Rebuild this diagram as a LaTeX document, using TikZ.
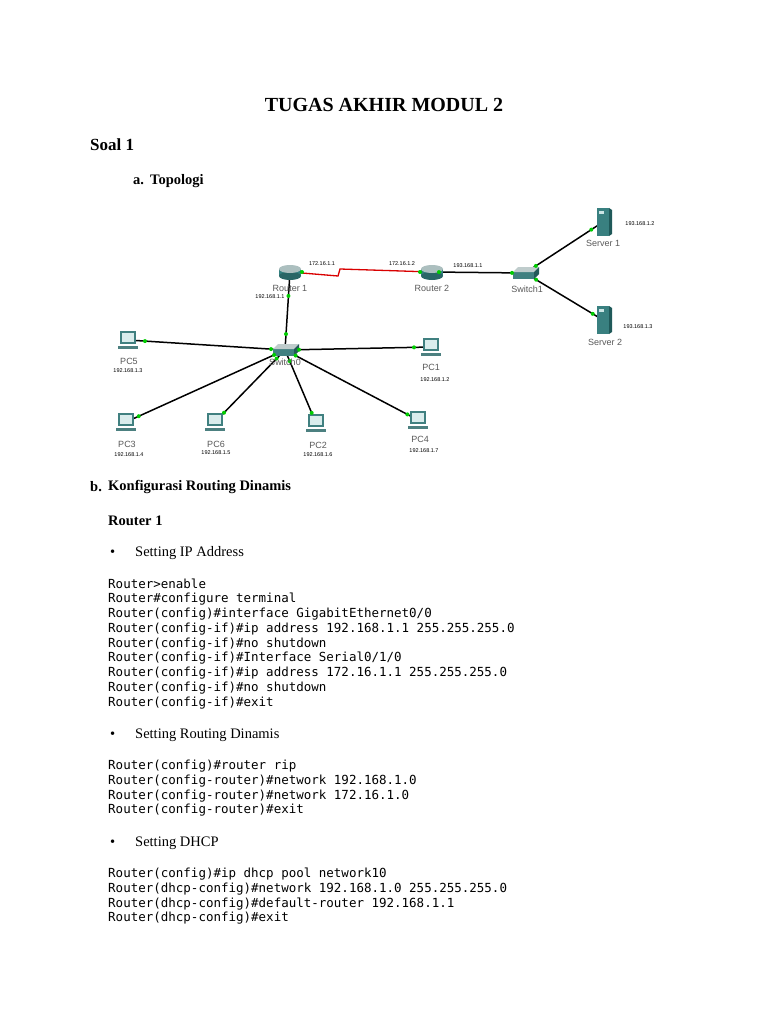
\documentclass[tikz,border=0pt]{standalone}
\usetikzlibrary{calc}
\usepackage{fontspec}
\setmainfont{Liberation Serif}
\newfontfamily\lsans{Liberation Sans}
\newfontfamily\cmono{DejaVu Sans Mono}
\begin{document}
\begin{tikzpicture}[x=1pt,y=-1pt,
 lab/.style={font=\lsans\fontsize{9}{10}\selectfont,text=gray!70!black,inner sep=0pt},
 ip/.style={font=\lsans\fontsize{5.5}{6}\selectfont,inner sep=0pt},
 link/.style={line width=1.5pt,black},
 gd/.style={fill=green!80!black,draw=none},
 code/.style={font=\cmono\fontsize{12.5}{13}\selectfont,anchor=west,inner sep=0pt},
 body/.style={font=\fontsize{14.5}{16}\selectfont,anchor=west,inner sep=0pt},
 hb/.style={font=\bfseries\fontsize{14.5}{16}\selectfont,anchor=west,inner sep=0pt}]
\useasboundingbox (0,0) rectangle (768,1024);
\fill[white] (0,0) rectangle (768,1024);
\node[font=\bfseries\fontsize{20}{24}\selectfont] (title) at (384,105) {TUGAS AKHIR MODUL 2};
\node[font=\bfseries\fontsize{17}{20}\selectfont,anchor=west,inner sep=0pt] (soal) at (90,145) {Soal 1};
\node[hb] (a) at (133,181) {a.};
\node[hb] (topo) at (150,181) {Topologi};
\foreach \n/\x/\y in {r1/290/272,r2/432/272,sw0/285/350,sw1/525/273,s1/603/222,s2/603/320,pc5/128/340,pc1/431/347,pc3/126/422,pc6/215/422,pc2/316/423,pc4/418/420}
 \coordinate (\n) at (\x,\y);
% links
\foreach \u/\v/\da/\db in {r1/sw0/24/16,sw0/pc5/14/17,sw0/pc1/14/17,sw0/pc3/12/14,sw0/pc6/12/13,sw0/pc2/12/11,sw0/pc4/12/12,r2/sw1/7/13,sw1/s1/13/14,sw1/s2/13/12} {
 \draw[link] (\u) -- (\v);
}
\draw[line width=1.3pt,red!85!black] (r1) -- (338,276) -- (340,269) -- (r2);
% devices
\foreach \n/\x/\y in {r1/290/272,r2/432/272} {
 \fill[teal!60!gray] (\x-11,\y-3) rectangle (\x+11,\y+4);
 \fill[teal!60!gray!80!black] (\x,\y+4) ellipse (11 and 4);
 \fill[teal!30!gray!50!white] (\x,\y-3) ellipse (11 and 4);
}
\foreach \n/\x/\y in {sw0/285/350,sw1/525/273} {
 \fill[teal!50!gray] (\x-12,\y-1) -- (\x+9,\y-1) -- (\x+9,\y+6) -- (\x-12,\y+6) -- cycle;
 \fill[teal!25!gray!40!white] (\x-12,\y-1) -- (\x-7,\y-6) -- (\x+14,\y-6) -- (\x+9,\y-1) -- cycle;
 \fill[teal!60!gray!70!black] (\x+9,\y-1) -- (\x+14,\y-6) -- (\x+14,\y+1) -- (\x+9,\y+6) -- cycle;
}
\foreach \n/\x/\y in {s1/603/222,s2/603/320} {
 \fill[teal!55!gray] (\x-6,\y-14) rectangle (\x+6,\y+14);
 \fill[teal!65!gray!70!black] (\x+6,\y-14) -- (\x+9,\y-12) -- (\x+9,\y+12) -- (\x+6,\y+14) -- cycle;
 \fill[teal!20!white] (\x-4,\y-11) rectangle (\x+1,\y-8);
}
\foreach \n/\x/\y in {pc5/128/340,pc1/431/347,pc3/126/422,pc6/215/422,pc2/316/423,pc4/418/420} {
 \fill[teal!50!gray] (\x-8,\y-9) rectangle (\x+8,\y+4);
 \fill[teal!15!white] (\x-6,\y-7) rectangle (\x+6,\y+2);
 \fill[teal!40!gray] (\x-10,\y+6) rectangle (\x+10,\y+9);
}
% green dots
\foreach \u/\v/\da/\db in {r1/sw0/24/16,sw0/pc5/14/17,sw0/pc1/14/17,sw0/pc3/12/14,sw0/pc6/12/13,sw0/pc2/12/11,sw0/pc4/12/12,r2/sw1/7/13,sw1/s1/13/14,sw1/s2/13/12,r1/r2/12/12} {
 \fill[gd] ($(\u)!\da pt!(\v)$) circle (2);
 \fill[gd] ($(\v)!\db pt!(\u)$) circle (2);
}
% labels
\node[lab] (lr1) at (290,288) {Router 1};
\node[lab] (lr2) at (432,288) {Router 2};
\node[lab] (lsw1) at (527,289) {Switch1};
\node[lab] (lsw0) at (285,362) {Switch0};
\node[lab] (ls1) at (603,243) {Server 1};
\node[lab] (ls2) at (605,342) {Server 2};
\node[lab] (lpc5) at (129,361) {PC5};
\node[lab] (lpc1) at (431,367) {PC1};
\node[lab] (lpc3) at (127,444) {PC3};
\node[lab] (lpc6) at (216,444) {PC6};
\node[lab] (lpc2) at (318,445) {PC2};
\node[lab] (lpc4) at (420,439) {PC4};
\node[ip] (i1) at (270,297) {192.168.1.1};
\node[ip] (i2) at (322,264) {172.16.1.1};
\node[ip] (i3) at (402,264) {172.16.1.2};
\node[ip] (i4) at (468,266) {193.168.1.1};
\node[ip] (i5) at (640,224) {193.168.1.2};
\node[ip] (i6) at (638,327) {193.168.1.3};
\node[ip] (i7) at (128,371) {192.168.1.3};
\node[ip] (i8) at (435,380) {192.168.1.2};
\node[ip] (i9) at (129,455) {192.168.1.4};
\node[ip] (i10) at (216,453) {192.168.1.5};
\node[ip] (i11) at (318,455) {192.168.1.6};
\node[ip] (i12) at (424,451) {192.168.1.7};
% text below
\node[hb] (b) at (90,487) {b.};
\node[hb] (konf) at (108,487) {Konfigurasi Routing Dinamis};
\node[hb] (rt1) at (108,521) {Router 1};
\node[body] (bu1) at (110,553) {\textbullet};
\node[body] (t1) at (135,553) {Setting IP Address};
\foreach \t [count=\i from 0] in {Router>enable,Router\#configure terminal,Router(config)\#interface GigabitEthernet0/0,Router(config-if)\#ip address 192.168.1.1 255.255.255.0,Router(config-if)\#no shutdown,Router(config-if)\#Interface Serial0/1/0,Router(config-if)\#ip address 172.16.1.1 255.255.255.0,Router(config-if)\#no shutdown,Router(config-if)\#exit}
 \node[code] (ca\i) at (108,584+14.9*\i) {\t};
\node[body] (bu2) at (110,735) {\textbullet};
\node[body] (t2) at (135,735) {Setting Routing Dinamis};
\foreach \t [count=\i from 0] in {Router(config)\#router rip,Router(config-router)\#network 192.168.1.0,Router(config-router)\#network 172.16.1.0,Router(config-router)\#exit}
 \node[code] (cb\i) at (108,766+14.8*\i) {\t};
\node[body] (bu3) at (110,843) {\textbullet};
\node[body] (t3) at (135,843) {Setting DHCP};
\foreach \t [count=\i from 0] in {Router(config)\#ip dhcp pool network10,Router(dhcp-config)\#network 192.168.1.0 255.255.255.0,Router(dhcp-config)\#default-router 192.168.1.1,Router(dhcp-config)\#exit}
 \node[code] (cc\i) at (108,874+14.8*\i) {\t};
\end{tikzpicture}
\end{document}
